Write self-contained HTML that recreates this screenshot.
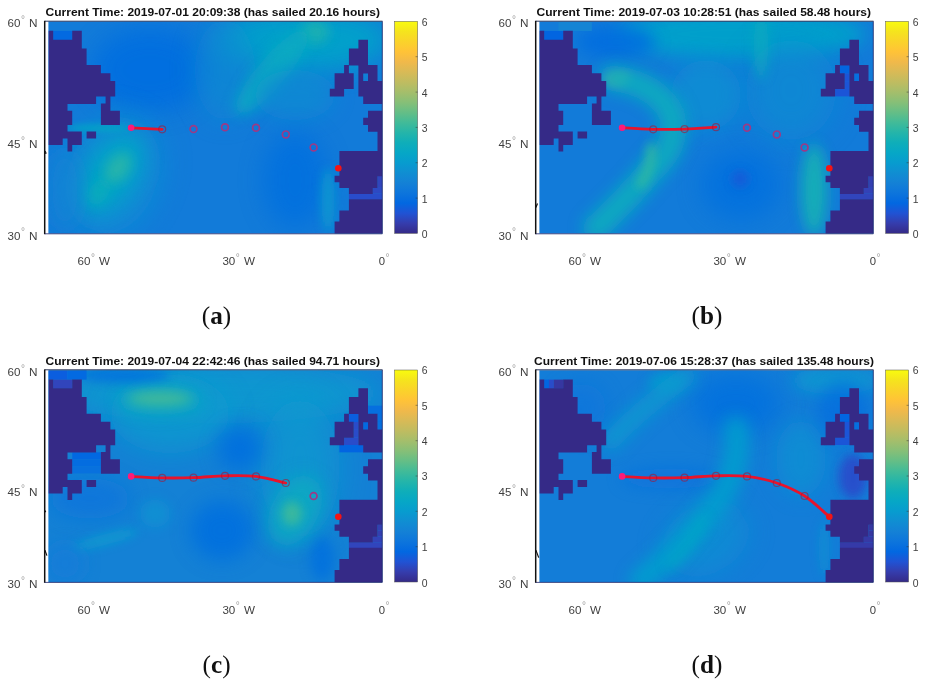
<!DOCTYPE html>
<html><head><meta charset="utf-8"><title>Figure</title>
<style>
html,body{margin:0;padding:0;background:#fff}
svg{display:block}
.t{font-family:"Liberation Sans",sans-serif;font-size:10.7px;fill:#404040}
.dg{font-family:"Liberation Sans",sans-serif;font-size:10px;fill:#a4a4a4}
.tc{font-family:"Liberation Sans",sans-serif;font-size:10.2px;fill:#404040}
.ti{font-family:"Liberation Sans",sans-serif;font-size:10.8px;font-weight:bold;fill:#111}
.cap{font-family:"Liberation Serif",serif;font-size:25.2px;fill:#111}
</style></head><body>
<svg width="931" height="685" viewBox="0 0 931 685">
<defs>
<linearGradient id="par" x1="0" y1="0" x2="0" y2="1"><stop offset="0.0000" stop-color="#f9fb0e"/><stop offset="0.0476" stop-color="#f5e41d"/><stop offset="0.0952" stop-color="#fad32a"/><stop offset="0.1429" stop-color="#ffc337"/><stop offset="0.1905" stop-color="#f1b94a"/><stop offset="0.2381" stop-color="#d9ba56"/><stop offset="0.2857" stop-color="#c0bc60"/><stop offset="0.3333" stop-color="#a5be6b"/><stop offset="0.3810" stop-color="#87bf77"/><stop offset="0.4286" stop-color="#65be86"/><stop offset="0.4762" stop-color="#42bb98"/><stop offset="0.5238" stop-color="#25b5a9"/><stop offset="0.5714" stop-color="#0faeb9"/><stop offset="0.6190" stop-color="#06a7c6"/><stop offset="0.6667" stop-color="#079ccf"/><stop offset="0.7143" stop-color="#108ed2"/><stop offset="0.7619" stop-color="#1481d6"/><stop offset="0.8095" stop-color="#0d75dc"/><stop offset="0.8571" stop-color="#0268e1"/><stop offset="0.9048" stop-color="#2053d4"/><stop offset="0.9524" stop-color="#353dad"/><stop offset="1.0000" stop-color="#352a87"/></linearGradient>
<filter id="b3" x="-100%" y="-100%" width="300%" height="300%"><feGaussianBlur stdDeviation="3"/></filter><filter id="b4" x="-100%" y="-100%" width="300%" height="300%"><feGaussianBlur stdDeviation="4"/></filter><filter id="b5" x="-100%" y="-100%" width="300%" height="300%"><feGaussianBlur stdDeviation="5"/></filter><filter id="b6" x="-100%" y="-100%" width="300%" height="300%"><feGaussianBlur stdDeviation="6"/></filter><filter id="b7" x="-100%" y="-100%" width="300%" height="300%"><feGaussianBlur stdDeviation="7"/></filter><filter id="b8" x="-100%" y="-100%" width="300%" height="300%"><feGaussianBlur stdDeviation="8"/></filter><filter id="b9" x="-100%" y="-100%" width="300%" height="300%"><feGaussianBlur stdDeviation="9"/></filter><filter id="b10" x="-100%" y="-100%" width="300%" height="300%"><feGaussianBlur stdDeviation="10"/></filter><filter id="b12" x="-100%" y="-100%" width="300%" height="300%"><feGaussianBlur stdDeviation="12"/></filter><filter id="b15" x="-100%" y="-100%" width="300%" height="300%"><feGaussianBlur stdDeviation="15"/></filter>
<clipPath id="clip"><rect x="48.4" y="21.6" width="333.90000000000003" height="212.0"/></clipPath>
</defs>
<rect width="931" height="685" fill="#fff"/>
<g transform="translate(0,0)">
<g clip-path="url(#clip)">
<rect x="28.4" y="1.6000000000000014" width="373.90000000000003" height="252.0" fill="#127bd9"/>
<ellipse cx="150" cy="70" rx="58" ry="42" transform="rotate(0 150 70)" fill="#056ee0" opacity="0.9" filter="url(#b12)"/>
<ellipse cx="305" cy="40" rx="85" ry="32" transform="rotate(0 305 40)" fill="#06a4c9" opacity="0.9" filter="url(#b12)"/>
<ellipse cx="225" cy="70" rx="30" ry="50" transform="rotate(0 225 70)" fill="#118dd2" opacity="0.6" filter="url(#b12)"/>
<ellipse cx="315" cy="32" rx="14" ry="12" transform="rotate(0 315 32)" fill="#20b4ad" opacity="0.8" filter="url(#b6)"/>
<ellipse cx="272" cy="72" rx="15" ry="54" transform="rotate(40 272 72)" fill="#07aac1" opacity="0.9" filter="url(#b7)"/>
<ellipse cx="295" cy="95" rx="40" ry="25" transform="rotate(0 295 95)" fill="#118dd2" opacity="0.7" filter="url(#b10)"/>
<ellipse cx="113" cy="175" rx="45" ry="60" transform="rotate(20 113 175)" fill="#0998d1" opacity="0.7" filter="url(#b15)"/>
<ellipse cx="111" cy="174" rx="24" ry="44" transform="rotate(35 111 174)" fill="#06a7c5" opacity="0.85" filter="url(#b10)"/>
<ellipse cx="99" cy="192" rx="9" ry="14" transform="rotate(35 99 192)" fill="#11afb8" opacity="0.7" filter="url(#b6)"/>
<ellipse cx="118" cy="168" rx="11" ry="17" transform="rotate(35 118 168)" fill="#29b6a7" opacity="0.85" filter="url(#b6)"/>
<ellipse cx="98" cy="128" rx="32" ry="3.5" transform="rotate(0 98 128)" fill="#06a7c5" opacity="0.9" filter="url(#b3)"/>
<ellipse cx="295" cy="180" rx="32" ry="48" transform="rotate(0 295 180)" fill="#066fdf" opacity="0.85" filter="url(#b12)"/>
<ellipse cx="328" cy="200" rx="7" ry="32" transform="rotate(0 328 200)" fill="#079ccf" opacity="0.8" filter="url(#b5)"/>
<ellipse cx="65" cy="190" rx="18" ry="40" transform="rotate(0 65 190)" fill="#1484d4" opacity="0.6" filter="url(#b8)"/>
<rect x="348.91" y="193.66" width="33.39" height="5.73" fill="#294cca"/>
<rect x="372.76" y="187.86" width="9.54" height="5.81" fill="#2d49c3"/>
<rect x="377.53" y="181.97" width="4.77" height="5.88" fill="#3145bc"/>
<rect x="377.53" y="176.01" width="4.77" height="5.96" fill="#3145bc"/>
<rect x="53.17" y="31.02" width="19.08" height="8.93" fill="#036ae1"/>
<path d="M48.4 30.8H53.2V40.1H48.4ZM72.2 30.8H81.8V40.1H72.2ZM48.4 39.7H81.8V48.8H48.4ZM358.4 39.7H368.0V48.8H358.4ZM48.4 48.4H86.6V57.3H48.4ZM348.9 48.4H368.0V57.3H348.9ZM48.4 56.9H86.6V65.5H48.4ZM348.9 56.9H368.0V65.5H348.9ZM48.4 65.1H100.9V73.6H48.4ZM344.1 65.1H348.9V73.6H344.1ZM358.4 65.1H377.5V73.6H358.4ZM48.4 73.2H110.4V81.4H48.4ZM334.6 73.2H353.7V81.4H334.6ZM358.4 73.2H363.2V81.4H358.4ZM368.0 73.2H377.5V81.4H368.0ZM48.4 81.0H115.2V89.1H48.4ZM334.6 81.0H353.7V89.1H334.6ZM358.4 81.0H382.3V89.1H358.4ZM48.4 88.7H115.2V96.6H48.4ZM329.8 88.7H344.1V96.6H329.8ZM358.4 88.7H382.3V96.6H358.4ZM48.4 96.2H96.1V103.9H48.4ZM105.6 96.2H110.4V103.9H105.6ZM363.2 96.2H382.3V103.9H363.2ZM48.4 103.5H67.5V111.1H48.4ZM100.9 103.5H110.4V111.1H100.9ZM48.4 110.7H72.2V118.1H48.4ZM100.9 110.7H119.9V118.1H100.9ZM368.0 110.7H382.3V118.1H368.0ZM48.4 117.7H72.2V125.1H48.4ZM100.9 117.7H119.9V125.1H100.9ZM363.2 117.7H382.3V125.1H363.2ZM48.4 124.7H67.5V131.8H48.4ZM368.0 124.7H382.3V131.8H368.0ZM48.4 131.4H81.8V138.5H48.4ZM86.6 131.4H96.1V138.5H86.6ZM377.5 131.4H382.3V138.5H377.5ZM48.4 138.1H62.7V145.0H48.4ZM67.5 138.1H81.8V145.0H67.5ZM377.5 138.1H382.3V145.0H377.5ZM67.5 144.6H72.2V151.5H67.5ZM377.5 144.6H382.3V151.5H377.5ZM339.4 151.1H382.3V157.8H339.4ZM339.4 157.4H382.3V164.0H339.4ZM339.4 163.6H382.3V170.2H339.4ZM339.4 169.8H382.3V176.2H339.4ZM334.6 175.8H377.5V182.2H334.6ZM339.4 181.8H377.5V188.1H339.4ZM348.9 187.7H372.8V193.9H348.9ZM348.9 199.2H382.3V205.3H348.9ZM348.9 204.9H382.3V210.9H348.9ZM339.4 210.5H382.3V216.4H339.4ZM339.4 216.0H382.3V221.9H339.4ZM334.6 221.5H382.3V227.3H334.6ZM334.6 226.9H382.3V232.6H334.6ZM334.6 232.2H382.3V233.8H334.6Z" fill="#352a87"/>
</g>
<path d="M44.7 21.2H382.5" fill="none" stroke="#14204a" stroke-width="0.9"/>
<path d="M44.7 234.2V20.8" fill="none" stroke="#111" stroke-width="1.5"/>
<path d="M382.3 21.3V233.79999999999998H44.7" fill="none" stroke="#1c2266" stroke-width="0.8"/>
<path d="M44.9 151.2l0.9 1.2v1.6" fill="none" stroke="#111" stroke-width="1.2"/>
<circle cx="193.5" cy="129.1" r="3.4" fill="none" stroke="#9c3a86" stroke-width="1.7"/>
<circle cx="225" cy="127.2" r="3.4" fill="none" stroke="#9c3a86" stroke-width="1.7"/>
<circle cx="256" cy="127.8" r="3.4" fill="none" stroke="#9c3a86" stroke-width="1.7"/>
<circle cx="285.8" cy="134.4" r="3.4" fill="none" stroke="#9c3a86" stroke-width="1.7"/>
<circle cx="313.6" cy="147.4" r="3.4" fill="none" stroke="#9c3a86" stroke-width="1.7"/>
<path d="M131.1 127.8C136.3 128.1 157.0 129.1 162.2 129.3" fill="none" stroke="#e8142c" stroke-width="2.8" stroke-linejoin="round" stroke-linecap="round"/>
<circle cx="162.2" cy="129.3" r="3.5" fill="none" stroke="#a81634" stroke-width="1.2" opacity="0.6"/>
<circle cx="131.1" cy="127.8" r="3.3" fill="#ff1a78"/>
<circle cx="338.3" cy="168.2" r="3.3" fill="#f41414"/>
<rect x="394.6" y="21.4" width="23" height="212" fill="url(#par)" stroke="#555" stroke-width="0.5"/>
<text x="421.8" y="238.0" class="tc" textLength="5.8" lengthAdjust="spacingAndGlyphs">0</text>
<text x="421.8" y="202.6" class="tc" textLength="5.8" lengthAdjust="spacingAndGlyphs">1</text>
<path d="M415.6 198.1h2" stroke="#333" stroke-width="0.5"/>
<text x="421.8" y="167.3" class="tc" textLength="5.8" lengthAdjust="spacingAndGlyphs">2</text>
<path d="M415.6 162.7h2" stroke="#333" stroke-width="0.5"/>
<text x="421.8" y="131.9" class="tc" textLength="5.8" lengthAdjust="spacingAndGlyphs">3</text>
<path d="M415.6 127.4h2" stroke="#333" stroke-width="0.5"/>
<text x="421.8" y="96.5" class="tc" textLength="5.8" lengthAdjust="spacingAndGlyphs">4</text>
<path d="M415.6 92.1h2" stroke="#333" stroke-width="0.5"/>
<text x="421.8" y="61.1" class="tc" textLength="5.8" lengthAdjust="spacingAndGlyphs">5</text>
<path d="M415.6 56.7h2" stroke="#333" stroke-width="0.5"/>
<text x="421.8" y="25.8" class="tc" textLength="5.8" lengthAdjust="spacingAndGlyphs">6</text>
<text x="45.5" y="16" class="ti" textLength="334.5" lengthAdjust="spacingAndGlyphs">Current Time: 2019-07-01 20:09:38 (has sailed 20.16 hours)</text>
<text x="7.6" y="27.3" class="t" textLength="12.9" lengthAdjust="spacingAndGlyphs">60</text><text x="20.9" y="23.0" class="dg">°</text><text x="28.9" y="27.3" class="t" textLength="8.5" lengthAdjust="spacingAndGlyphs">N</text>
<text x="7.6" y="147.9" class="t" textLength="12.9" lengthAdjust="spacingAndGlyphs">45</text><text x="20.9" y="143.6" class="dg">°</text><text x="28.9" y="147.9" class="t" textLength="8.5" lengthAdjust="spacingAndGlyphs">N</text>
<text x="7.6" y="239.6" class="t" textLength="12.9" lengthAdjust="spacingAndGlyphs">30</text><text x="20.9" y="235.29999999999998" class="dg">°</text><text x="28.9" y="239.6" class="t" textLength="8.5" lengthAdjust="spacingAndGlyphs">N</text>
<text x="77.6" y="265.2" class="t" textLength="12.9" lengthAdjust="spacingAndGlyphs">60</text><text x="90.89999999999999" y="260.9" class="dg">°</text><text x="99.1" y="265.2" class="t" textLength="11" lengthAdjust="spacingAndGlyphs">W</text>
<text x="222.4" y="265.2" class="t" textLength="12.9" lengthAdjust="spacingAndGlyphs">30</text><text x="235.70000000000002" y="260.9" class="dg">°</text><text x="243.9" y="265.2" class="t" textLength="11" lengthAdjust="spacingAndGlyphs">W</text>
<text x="378.8" y="265.2" class="t" textLength="6.3" lengthAdjust="spacingAndGlyphs">0</text><text x="385.6" y="260.9" class="dg">°</text>
<text x="216.5" y="323.6" class="cap" text-anchor="middle">(<tspan font-weight="bold">a</tspan>)</text>
</g>
<g transform="translate(491,0)">
<g clip-path="url(#clip)">
<rect x="28.4" y="1.6000000000000014" width="373.90000000000003" height="252.0" fill="#127bd9"/>
<ellipse cx="250" cy="34" rx="125" ry="25" transform="rotate(0 250 34)" fill="#06a2cb" opacity="0.95" filter="url(#b9)"/>
<ellipse cx="300" cy="90" rx="45" ry="50" transform="rotate(0 300 90)" fill="#118dd2" opacity="0.7" filter="url(#b15)"/>
<ellipse cx="270" cy="45" rx="7" ry="35" transform="rotate(0 270 45)" fill="#0badbc" opacity="0.7" filter="url(#b6)"/>
<ellipse cx="125" cy="42" rx="40" ry="16" transform="rotate(0 125 42)" fill="#046de0" opacity="0.85" filter="url(#b8)"/>
<ellipse cx="215" cy="95" rx="35" ry="35" transform="rotate(0 215 95)" fill="#0d93d2" opacity="0.7" filter="url(#b10)"/>
<ellipse cx="250" cy="185" rx="40" ry="35" transform="rotate(0 250 185)" fill="#066fdf" opacity="0.8" filter="url(#b12)"/>
<ellipse cx="249" cy="179" rx="8" ry="8" transform="rotate(0 249 179)" fill="#1b55d7" opacity="0.8" filter="url(#b5)"/>
<ellipse cx="323" cy="190" rx="13" ry="46" transform="rotate(0 323 190)" fill="#14b0b5" opacity="0.95" filter="url(#b7)"/>
<ellipse cx="127" cy="79" rx="12" ry="5.5" transform="rotate(0 127 79)" fill="#91bf73" opacity="0.95" filter="url(#b4)"/>
<path d="M122 78 Q168 85 181 115 Q188 145 162 168 Q140 195 105 228" fill="none" stroke="#09abbf" stroke-width="26" stroke-linecap="round" opacity="0.95" filter="url(#b8)"/>
<path d="M160 148 Q162 165 150 184" fill="none" stroke="#33b8a1" stroke-width="9" stroke-linecap="round" opacity="0.9" filter="url(#b5)"/>
<rect x="348.91" y="193.66" width="33.39" height="5.73" fill="#3145bc"/>
<rect x="372.76" y="187.86" width="9.54" height="5.81" fill="#3342b7"/>
<rect x="377.53" y="181.97" width="4.77" height="5.88" fill="#343fb1"/>
<rect x="377.53" y="176.01" width="4.77" height="5.96" fill="#343fb1"/>
<rect x="348.91" y="65.33" width="9.54" height="8.04" fill="#0265e1"/>
<rect x="353.68" y="73.37" width="4.77" height="7.85" fill="#1b55d7"/>
<rect x="363.22" y="73.37" width="4.77" height="7.85" fill="#066fdf"/>
<rect x="353.68" y="81.21" width="4.77" height="7.67" fill="#1b55d7"/>
<rect x="344.14" y="88.88" width="14.31" height="7.50" fill="#1b55d7"/>
<rect x="53.17" y="31.02" width="19.08" height="8.93" fill="#0265e1"/>
<rect x="67.48" y="21.82" width="33.39" height="9.20" fill="#1484d4"/>
<path d="M48.4 30.8H53.2V40.1H48.4ZM72.2 30.8H81.8V40.1H72.2ZM48.4 39.7H81.8V48.8H48.4ZM358.4 39.7H368.0V48.8H358.4ZM48.4 48.4H86.6V57.3H48.4ZM348.9 48.4H368.0V57.3H348.9ZM48.4 56.9H86.6V65.5H48.4ZM348.9 56.9H368.0V65.5H348.9ZM48.4 65.1H100.9V73.6H48.4ZM344.1 65.1H348.9V73.6H344.1ZM358.4 65.1H377.5V73.6H358.4ZM48.4 73.2H110.4V81.4H48.4ZM334.6 73.2H353.7V81.4H334.6ZM358.4 73.2H363.2V81.4H358.4ZM368.0 73.2H377.5V81.4H368.0ZM48.4 81.0H115.2V89.1H48.4ZM334.6 81.0H353.7V89.1H334.6ZM358.4 81.0H382.3V89.1H358.4ZM48.4 88.7H115.2V96.6H48.4ZM329.8 88.7H344.1V96.6H329.8ZM358.4 88.7H382.3V96.6H358.4ZM48.4 96.2H96.1V103.9H48.4ZM105.6 96.2H110.4V103.9H105.6ZM363.2 96.2H382.3V103.9H363.2ZM48.4 103.5H67.5V111.1H48.4ZM100.9 103.5H110.4V111.1H100.9ZM48.4 110.7H72.2V118.1H48.4ZM100.9 110.7H119.9V118.1H100.9ZM368.0 110.7H382.3V118.1H368.0ZM48.4 117.7H72.2V125.1H48.4ZM100.9 117.7H119.9V125.1H100.9ZM363.2 117.7H382.3V125.1H363.2ZM48.4 124.7H67.5V131.8H48.4ZM368.0 124.7H382.3V131.8H368.0ZM48.4 131.4H81.8V138.5H48.4ZM86.6 131.4H96.1V138.5H86.6ZM377.5 131.4H382.3V138.5H377.5ZM48.4 138.1H62.7V145.0H48.4ZM67.5 138.1H81.8V145.0H67.5ZM377.5 138.1H382.3V145.0H377.5ZM67.5 144.6H72.2V151.5H67.5ZM377.5 144.6H382.3V151.5H377.5ZM339.4 151.1H382.3V157.8H339.4ZM339.4 157.4H382.3V164.0H339.4ZM339.4 163.6H382.3V170.2H339.4ZM339.4 169.8H382.3V176.2H339.4ZM334.6 175.8H377.5V182.2H334.6ZM339.4 181.8H377.5V188.1H339.4ZM348.9 187.7H372.8V193.9H348.9ZM348.9 199.2H382.3V205.3H348.9ZM348.9 204.9H382.3V210.9H348.9ZM339.4 210.5H382.3V216.4H339.4ZM339.4 216.0H382.3V221.9H339.4ZM334.6 221.5H382.3V227.3H334.6ZM334.6 226.9H382.3V232.6H334.6ZM334.6 232.2H382.3V233.8H334.6Z" fill="#352a87"/>
</g>
<path d="M44.7 21.2H382.5" fill="none" stroke="#14204a" stroke-width="0.9"/>
<path d="M44.7 234.2V20.8" fill="none" stroke="#111" stroke-width="1.5"/>
<path d="M382.3 21.3V233.79999999999998H44.7" fill="none" stroke="#1c2266" stroke-width="0.8"/>
<path d="M44.9 207.5l1.6-4" fill="none" stroke="#111" stroke-width="1.2"/>
<circle cx="256" cy="127.8" r="3.4" fill="none" stroke="#9c3a86" stroke-width="1.7"/>
<circle cx="285.8" cy="134.4" r="3.4" fill="none" stroke="#9c3a86" stroke-width="1.7"/>
<circle cx="313.6" cy="147.4" r="3.4" fill="none" stroke="#9c3a86" stroke-width="1.7"/>
<path d="M131.1 127.8C136.3 128.1 151.8 129.1 162.2 129.3C172.6 129.5 183.0 129.4 193.5 129.1C204.0 128.8 219.8 127.5 225 127.2" fill="none" stroke="#e8142c" stroke-width="2.8" stroke-linejoin="round" stroke-linecap="round"/>
<circle cx="162.2" cy="129.3" r="3.5" fill="none" stroke="#a81634" stroke-width="1.2" opacity="0.6"/>
<circle cx="193.5" cy="129.1" r="3.5" fill="none" stroke="#a81634" stroke-width="1.2" opacity="0.6"/>
<circle cx="225" cy="127.2" r="3.5" fill="none" stroke="#a81634" stroke-width="1.2" opacity="0.6"/>
<circle cx="131.1" cy="127.8" r="3.3" fill="#ff1a78"/>
<circle cx="338.3" cy="168.2" r="3.3" fill="#f41414"/>
<rect x="394.6" y="21.4" width="23" height="212" fill="url(#par)" stroke="#555" stroke-width="0.5"/>
<text x="421.8" y="238.0" class="tc" textLength="5.8" lengthAdjust="spacingAndGlyphs">0</text>
<text x="421.8" y="202.6" class="tc" textLength="5.8" lengthAdjust="spacingAndGlyphs">1</text>
<path d="M415.6 198.1h2" stroke="#333" stroke-width="0.5"/>
<text x="421.8" y="167.3" class="tc" textLength="5.8" lengthAdjust="spacingAndGlyphs">2</text>
<path d="M415.6 162.7h2" stroke="#333" stroke-width="0.5"/>
<text x="421.8" y="131.9" class="tc" textLength="5.8" lengthAdjust="spacingAndGlyphs">3</text>
<path d="M415.6 127.4h2" stroke="#333" stroke-width="0.5"/>
<text x="421.8" y="96.5" class="tc" textLength="5.8" lengthAdjust="spacingAndGlyphs">4</text>
<path d="M415.6 92.1h2" stroke="#333" stroke-width="0.5"/>
<text x="421.8" y="61.1" class="tc" textLength="5.8" lengthAdjust="spacingAndGlyphs">5</text>
<path d="M415.6 56.7h2" stroke="#333" stroke-width="0.5"/>
<text x="421.8" y="25.8" class="tc" textLength="5.8" lengthAdjust="spacingAndGlyphs">6</text>
<text x="45.5" y="16" class="ti" textLength="334.5" lengthAdjust="spacingAndGlyphs">Current Time: 2019-07-03 10:28:51 (has sailed 58.48 hours)</text>
<text x="7.6" y="27.3" class="t" textLength="12.9" lengthAdjust="spacingAndGlyphs">60</text><text x="20.9" y="23.0" class="dg">°</text><text x="28.9" y="27.3" class="t" textLength="8.5" lengthAdjust="spacingAndGlyphs">N</text>
<text x="7.6" y="147.9" class="t" textLength="12.9" lengthAdjust="spacingAndGlyphs">45</text><text x="20.9" y="143.6" class="dg">°</text><text x="28.9" y="147.9" class="t" textLength="8.5" lengthAdjust="spacingAndGlyphs">N</text>
<text x="7.6" y="239.6" class="t" textLength="12.9" lengthAdjust="spacingAndGlyphs">30</text><text x="20.9" y="235.29999999999998" class="dg">°</text><text x="28.9" y="239.6" class="t" textLength="8.5" lengthAdjust="spacingAndGlyphs">N</text>
<text x="77.6" y="265.2" class="t" textLength="12.9" lengthAdjust="spacingAndGlyphs">60</text><text x="90.89999999999999" y="260.9" class="dg">°</text><text x="99.1" y="265.2" class="t" textLength="11" lengthAdjust="spacingAndGlyphs">W</text>
<text x="222.4" y="265.2" class="t" textLength="12.9" lengthAdjust="spacingAndGlyphs">30</text><text x="235.70000000000002" y="260.9" class="dg">°</text><text x="243.9" y="265.2" class="t" textLength="11" lengthAdjust="spacingAndGlyphs">W</text>
<text x="378.8" y="265.2" class="t" textLength="6.3" lengthAdjust="spacingAndGlyphs">0</text><text x="385.6" y="260.9" class="dg">°</text>
<text x="216.0" y="323.6" class="cap" text-anchor="middle">(<tspan font-weight="bold">b</tspan>)</text>
</g>
<g transform="translate(0,348.6)">
<g clip-path="url(#clip)">
<rect x="28.4" y="1.6000000000000014" width="373.90000000000003" height="252.0" fill="#1481d5"/>
<ellipse cx="220" cy="45" rx="160" ry="30" transform="rotate(0 220 45)" fill="#079ccf" opacity="0.8" filter="url(#b12)"/>
<ellipse cx="170" cy="65" rx="60" ry="40" transform="rotate(0 170 65)" fill="#079ccf" opacity="0.7" filter="url(#b12)"/>
<ellipse cx="160" cy="52" rx="42" ry="14" transform="rotate(0 160 52)" fill="#0badbc" opacity="0.7" filter="url(#b8)"/>
<ellipse cx="160" cy="50" rx="32" ry="7" transform="rotate(0 160 50)" fill="#49bb94" opacity="0.9" filter="url(#b6)"/>
<ellipse cx="300" cy="120" rx="40" ry="70" transform="rotate(0 300 120)" fill="#079ccf" opacity="0.7" filter="url(#b15)"/>
<ellipse cx="240" cy="100" rx="22" ry="22" transform="rotate(0 240 100)" fill="#066fdf" opacity="0.9" filter="url(#b10)"/>
<ellipse cx="222" cy="182" rx="32" ry="30" transform="rotate(0 222 182)" fill="#066fdf" opacity="0.9" filter="url(#b10)"/>
<ellipse cx="322" cy="210" rx="12" ry="22" transform="rotate(0 322 210)" fill="#066fdf" opacity="0.8" filter="url(#b6)"/>
<ellipse cx="90" cy="150" rx="40" ry="20" transform="rotate(0 90 150)" fill="#0d75dc" opacity="0.8" filter="url(#b10)"/>
<ellipse cx="295" cy="162" rx="24" ry="38" transform="rotate(27 295 162)" fill="#07aac1" opacity="0.85" filter="url(#b9)"/>
<ellipse cx="292" cy="165" rx="10" ry="12" transform="rotate(0 292 165)" fill="#3dba9b" opacity="0.9" filter="url(#b5)"/>
<ellipse cx="105" cy="191" rx="35" ry="6" transform="rotate(-15 105 191)" fill="#079ccf" opacity="0.8" filter="url(#b5)"/>
<ellipse cx="155" cy="165" rx="15" ry="14" transform="rotate(0 155 165)" fill="#0998d1" opacity="0.6" filter="url(#b6)"/>
<ellipse cx="125" cy="27" rx="45" ry="7" transform="rotate(0 125 27)" fill="#066fdf" opacity="0.8" filter="url(#b5)"/>
<ellipse cx="65" cy="215" rx="20" ry="20" transform="rotate(0 65 215)" fill="#127bd9" opacity="0.7" filter="url(#b8)"/>
<rect x="348.91" y="193.66" width="33.39" height="5.73" fill="#3145bc"/>
<rect x="372.76" y="187.86" width="9.54" height="5.81" fill="#3342b7"/>
<rect x="377.53" y="181.97" width="4.77" height="5.88" fill="#343fb1"/>
<rect x="377.53" y="176.01" width="4.77" height="5.96" fill="#343fb1"/>
<rect x="348.91" y="65.33" width="9.54" height="8.04" fill="#0b5edf"/>
<rect x="353.68" y="73.37" width="4.77" height="7.85" fill="#294cca"/>
<rect x="363.22" y="73.37" width="4.77" height="7.85" fill="#036ae1"/>
<rect x="353.68" y="81.21" width="4.77" height="7.67" fill="#294cca"/>
<rect x="344.14" y="88.88" width="14.31" height="7.50" fill="#294cca"/>
<rect x="339.37" y="96.38" width="23.85" height="7.34" fill="#0265e1"/>
<rect x="367.99" y="57.09" width="14.31" height="8.24" fill="#066fdf"/>
<rect x="377.53" y="65.33" width="4.77" height="8.04" fill="#066fdf"/>
<rect x="377.53" y="73.37" width="4.77" height="7.85" fill="#066fdf"/>
<rect x="72.25" y="103.71" width="28.62" height="7.19" fill="#0268e1"/>
<rect x="72.25" y="110.90" width="28.62" height="7.04" fill="#046de0"/>
<rect x="72.25" y="117.94" width="28.62" height="6.91" fill="#0871de"/>
<rect x="48.40" y="21.82" width="19.08" height="9.20" fill="#0b5edf"/>
<rect x="67.48" y="21.82" width="19.08" height="9.20" fill="#036ae1"/>
<rect x="53.17" y="31.02" width="19.08" height="8.93" fill="#3145bc"/>
<path d="M48.4 30.8H53.2V40.1H48.4ZM72.2 30.8H81.8V40.1H72.2ZM48.4 39.7H81.8V48.8H48.4ZM358.4 39.7H368.0V48.8H358.4ZM48.4 48.4H86.6V57.3H48.4ZM348.9 48.4H368.0V57.3H348.9ZM48.4 56.9H86.6V65.5H48.4ZM348.9 56.9H368.0V65.5H348.9ZM48.4 65.1H100.9V73.6H48.4ZM344.1 65.1H348.9V73.6H344.1ZM358.4 65.1H377.5V73.6H358.4ZM48.4 73.2H110.4V81.4H48.4ZM334.6 73.2H353.7V81.4H334.6ZM358.4 73.2H363.2V81.4H358.4ZM368.0 73.2H377.5V81.4H368.0ZM48.4 81.0H115.2V89.1H48.4ZM334.6 81.0H353.7V89.1H334.6ZM358.4 81.0H382.3V89.1H358.4ZM48.4 88.7H115.2V96.6H48.4ZM329.8 88.7H344.1V96.6H329.8ZM358.4 88.7H382.3V96.6H358.4ZM48.4 96.2H96.1V103.9H48.4ZM105.6 96.2H110.4V103.9H105.6ZM363.2 96.2H382.3V103.9H363.2ZM48.4 103.5H67.5V111.1H48.4ZM100.9 103.5H110.4V111.1H100.9ZM48.4 110.7H72.2V118.1H48.4ZM100.9 110.7H119.9V118.1H100.9ZM368.0 110.7H382.3V118.1H368.0ZM48.4 117.7H72.2V125.1H48.4ZM100.9 117.7H119.9V125.1H100.9ZM363.2 117.7H382.3V125.1H363.2ZM48.4 124.7H67.5V131.8H48.4ZM368.0 124.7H382.3V131.8H368.0ZM48.4 131.4H81.8V138.5H48.4ZM86.6 131.4H96.1V138.5H86.6ZM377.5 131.4H382.3V138.5H377.5ZM48.4 138.1H62.7V145.0H48.4ZM67.5 138.1H81.8V145.0H67.5ZM377.5 138.1H382.3V145.0H377.5ZM67.5 144.6H72.2V151.5H67.5ZM377.5 144.6H382.3V151.5H377.5ZM339.4 151.1H382.3V157.8H339.4ZM339.4 157.4H382.3V164.0H339.4ZM339.4 163.6H382.3V170.2H339.4ZM339.4 169.8H382.3V176.2H339.4ZM334.6 175.8H377.5V182.2H334.6ZM339.4 181.8H377.5V188.1H339.4ZM348.9 187.7H372.8V193.9H348.9ZM348.9 199.2H382.3V205.3H348.9ZM348.9 204.9H382.3V210.9H348.9ZM339.4 210.5H382.3V216.4H339.4ZM339.4 216.0H382.3V221.9H339.4ZM334.6 221.5H382.3V227.3H334.6ZM334.6 226.9H382.3V232.6H334.6ZM334.6 232.2H382.3V233.8H334.6Z" fill="#352a87"/>
</g>
<path d="M44.7 21.2H382.5" fill="none" stroke="#14204a" stroke-width="0.9"/>
<path d="M44.7 234.2V20.8" fill="none" stroke="#111" stroke-width="1.5"/>
<path d="M382.3 21.3V233.79999999999998H44.7" fill="none" stroke="#1c2266" stroke-width="0.8"/>
<path d="M44.9 162l0.8 1.5M44.9 201.5l2 5.5" fill="none" stroke="#111" stroke-width="1.2"/>
<circle cx="313.6" cy="147.4" r="3.4" fill="none" stroke="#9c3a86" stroke-width="1.7"/>
<path d="M131.1 127.8C136.3 128.1 151.8 129.1 162.2 129.3C172.6 129.5 183.0 129.4 193.5 129.1C204.0 128.8 214.6 127.4 225 127.2C235.4 127.0 245.9 126.6 256 127.8C266.1 129.0 280.8 133.3 285.8 134.4" fill="none" stroke="#e8142c" stroke-width="2.8" stroke-linejoin="round" stroke-linecap="round"/>
<circle cx="162.2" cy="129.3" r="3.5" fill="none" stroke="#a81634" stroke-width="1.2" opacity="0.6"/>
<circle cx="193.5" cy="129.1" r="3.5" fill="none" stroke="#a81634" stroke-width="1.2" opacity="0.6"/>
<circle cx="225" cy="127.2" r="3.5" fill="none" stroke="#a81634" stroke-width="1.2" opacity="0.6"/>
<circle cx="256" cy="127.8" r="3.5" fill="none" stroke="#a81634" stroke-width="1.2" opacity="0.6"/>
<circle cx="285.8" cy="134.4" r="3.5" fill="none" stroke="#a81634" stroke-width="1.2" opacity="0.6"/>
<circle cx="131.1" cy="127.8" r="3.3" fill="#ff1a78"/>
<circle cx="338.3" cy="168.2" r="3.3" fill="#f41414"/>
<rect x="394.6" y="21.4" width="23" height="212" fill="url(#par)" stroke="#555" stroke-width="0.5"/>
<text x="421.8" y="238.0" class="tc" textLength="5.8" lengthAdjust="spacingAndGlyphs">0</text>
<text x="421.8" y="202.6" class="tc" textLength="5.8" lengthAdjust="spacingAndGlyphs">1</text>
<path d="M415.6 198.1h2" stroke="#333" stroke-width="0.5"/>
<text x="421.8" y="167.3" class="tc" textLength="5.8" lengthAdjust="spacingAndGlyphs">2</text>
<path d="M415.6 162.7h2" stroke="#333" stroke-width="0.5"/>
<text x="421.8" y="131.9" class="tc" textLength="5.8" lengthAdjust="spacingAndGlyphs">3</text>
<path d="M415.6 127.4h2" stroke="#333" stroke-width="0.5"/>
<text x="421.8" y="96.5" class="tc" textLength="5.8" lengthAdjust="spacingAndGlyphs">4</text>
<path d="M415.6 92.1h2" stroke="#333" stroke-width="0.5"/>
<text x="421.8" y="61.1" class="tc" textLength="5.8" lengthAdjust="spacingAndGlyphs">5</text>
<path d="M415.6 56.7h2" stroke="#333" stroke-width="0.5"/>
<text x="421.8" y="25.8" class="tc" textLength="5.8" lengthAdjust="spacingAndGlyphs">6</text>
<text x="45.5" y="16" class="ti" textLength="334.5" lengthAdjust="spacingAndGlyphs">Current Time: 2019-07-04 22:42:46 (has sailed 94.71 hours)</text>
<text x="7.6" y="27.3" class="t" textLength="12.9" lengthAdjust="spacingAndGlyphs">60</text><text x="20.9" y="23.0" class="dg">°</text><text x="28.9" y="27.3" class="t" textLength="8.5" lengthAdjust="spacingAndGlyphs">N</text>
<text x="7.6" y="147.9" class="t" textLength="12.9" lengthAdjust="spacingAndGlyphs">45</text><text x="20.9" y="143.6" class="dg">°</text><text x="28.9" y="147.9" class="t" textLength="8.5" lengthAdjust="spacingAndGlyphs">N</text>
<text x="7.6" y="239.6" class="t" textLength="12.9" lengthAdjust="spacingAndGlyphs">30</text><text x="20.9" y="235.29999999999998" class="dg">°</text><text x="28.9" y="239.6" class="t" textLength="8.5" lengthAdjust="spacingAndGlyphs">N</text>
<text x="77.6" y="265.2" class="t" textLength="12.9" lengthAdjust="spacingAndGlyphs">60</text><text x="90.89999999999999" y="260.9" class="dg">°</text><text x="99.1" y="265.2" class="t" textLength="11" lengthAdjust="spacingAndGlyphs">W</text>
<text x="222.4" y="265.2" class="t" textLength="12.9" lengthAdjust="spacingAndGlyphs">30</text><text x="235.70000000000002" y="260.9" class="dg">°</text><text x="243.9" y="265.2" class="t" textLength="11" lengthAdjust="spacingAndGlyphs">W</text>
<text x="378.8" y="265.2" class="t" textLength="6.3" lengthAdjust="spacingAndGlyphs">0</text><text x="385.6" y="260.9" class="dg">°</text>
<text x="216.6" y="324.3" class="cap" text-anchor="middle">(<tspan font-weight="bold">c</tspan>)</text>
</g>
<g transform="translate(491,348.6)">
<g clip-path="url(#clip)">
<rect x="28.4" y="1.6000000000000014" width="373.90000000000003" height="252.0" fill="#137dd8"/>
<ellipse cx="345" cy="32" rx="45" ry="14" transform="rotate(0 345 32)" fill="#079ccf" opacity="0.8" filter="url(#b8)"/>
<ellipse cx="175" cy="34" rx="18" ry="10" transform="rotate(0 175 34)" fill="#06a0cd" opacity="0.7" filter="url(#b6)"/>
<ellipse cx="245" cy="55" rx="45" ry="30" transform="rotate(0 245 55)" fill="#066fdf" opacity="0.8" filter="url(#b12)"/>
<ellipse cx="180" cy="130" rx="50" ry="10" transform="rotate(0 180 130)" fill="#0871de" opacity="0.7" filter="url(#b8)"/>
<ellipse cx="310" cy="110" rx="25" ry="38" transform="rotate(0 310 110)" fill="#0d93d2" opacity="0.7" filter="url(#b10)"/>
<ellipse cx="362" cy="128" rx="14" ry="22" transform="rotate(0 362 128)" fill="#294cca" opacity="0.9" filter="url(#b5)"/>
<ellipse cx="352" cy="62" rx="25" ry="30" transform="rotate(0 352 62)" fill="#036ae1" opacity="0.6" filter="url(#b8)"/>
<ellipse cx="333" cy="200" rx="5" ry="28" transform="rotate(0 333 200)" fill="#0d93d2" opacity="0.7" filter="url(#b4)"/>
<ellipse cx="215" cy="190" rx="45" ry="35" transform="rotate(-30 215 190)" fill="#0d93d2" opacity="0.6" filter="url(#b12)"/>
<ellipse cx="90" cy="60" rx="25" ry="25" transform="rotate(0 90 60)" fill="#0b73dd" opacity="0.6" filter="url(#b10)"/>
<path d="M195 28 Q150 60 120 92" fill="none" stroke="#079ccf" stroke-width="20" stroke-linecap="round" opacity="0.8" filter="url(#b8)"/>
<path d="M150 232 Q200 190 232 145 Q250 110 245 80" fill="none" stroke="#069fce" stroke-width="24" stroke-linecap="round" opacity="0.9" filter="url(#b8)"/>
<path d="M180 215 Q200 195 212 172" fill="none" stroke="#06a7c5" stroke-width="10" stroke-linecap="round" opacity="0.7" filter="url(#b6)"/>
<rect x="348.91" y="193.66" width="33.39" height="5.73" fill="#353aa8"/>
<rect x="372.76" y="187.86" width="9.54" height="5.81" fill="#3639a5"/>
<rect x="377.53" y="181.97" width="4.77" height="5.88" fill="#3637a1"/>
<rect x="377.53" y="176.01" width="4.77" height="5.96" fill="#3637a1"/>
<rect x="348.91" y="65.33" width="9.54" height="8.04" fill="#0265e1"/>
<rect x="353.68" y="73.37" width="4.77" height="7.85" fill="#1b55d7"/>
<rect x="363.22" y="73.37" width="4.77" height="7.85" fill="#066fdf"/>
<rect x="353.68" y="81.21" width="4.77" height="7.67" fill="#1b55d7"/>
<rect x="344.14" y="88.88" width="14.31" height="7.50" fill="#1b55d7"/>
<rect x="53.17" y="31.02" width="4.77" height="8.93" fill="#0265e1"/>
<rect x="57.94" y="31.02" width="4.77" height="8.93" fill="#294cca"/>
<rect x="62.71" y="31.02" width="9.54" height="8.93" fill="#3637a1"/>
<path d="M48.4 30.8H53.2V40.1H48.4ZM72.2 30.8H81.8V40.1H72.2ZM48.4 39.7H81.8V48.8H48.4ZM358.4 39.7H368.0V48.8H358.4ZM48.4 48.4H86.6V57.3H48.4ZM348.9 48.4H368.0V57.3H348.9ZM48.4 56.9H86.6V65.5H48.4ZM348.9 56.9H368.0V65.5H348.9ZM48.4 65.1H100.9V73.6H48.4ZM344.1 65.1H348.9V73.6H344.1ZM358.4 65.1H377.5V73.6H358.4ZM48.4 73.2H110.4V81.4H48.4ZM334.6 73.2H353.7V81.4H334.6ZM358.4 73.2H363.2V81.4H358.4ZM368.0 73.2H377.5V81.4H368.0ZM48.4 81.0H115.2V89.1H48.4ZM334.6 81.0H353.7V89.1H334.6ZM358.4 81.0H382.3V89.1H358.4ZM48.4 88.7H115.2V96.6H48.4ZM329.8 88.7H344.1V96.6H329.8ZM358.4 88.7H382.3V96.6H358.4ZM48.4 96.2H96.1V103.9H48.4ZM105.6 96.2H110.4V103.9H105.6ZM363.2 96.2H382.3V103.9H363.2ZM48.4 103.5H67.5V111.1H48.4ZM100.9 103.5H110.4V111.1H100.9ZM48.4 110.7H72.2V118.1H48.4ZM100.9 110.7H119.9V118.1H100.9ZM368.0 110.7H382.3V118.1H368.0ZM48.4 117.7H72.2V125.1H48.4ZM100.9 117.7H119.9V125.1H100.9ZM363.2 117.7H382.3V125.1H363.2ZM48.4 124.7H67.5V131.8H48.4ZM368.0 124.7H382.3V131.8H368.0ZM48.4 131.4H81.8V138.5H48.4ZM86.6 131.4H96.1V138.5H86.6ZM377.5 131.4H382.3V138.5H377.5ZM48.4 138.1H62.7V145.0H48.4ZM67.5 138.1H81.8V145.0H67.5ZM377.5 138.1H382.3V145.0H377.5ZM67.5 144.6H72.2V151.5H67.5ZM377.5 144.6H382.3V151.5H377.5ZM339.4 151.1H382.3V157.8H339.4ZM339.4 157.4H382.3V164.0H339.4ZM339.4 163.6H382.3V170.2H339.4ZM339.4 169.8H382.3V176.2H339.4ZM334.6 175.8H377.5V182.2H334.6ZM339.4 181.8H377.5V188.1H339.4ZM348.9 187.7H372.8V193.9H348.9ZM348.9 199.2H382.3V205.3H348.9ZM348.9 204.9H382.3V210.9H348.9ZM339.4 210.5H382.3V216.4H339.4ZM339.4 216.0H382.3V221.9H339.4ZM334.6 221.5H382.3V227.3H334.6ZM334.6 226.9H382.3V232.6H334.6ZM334.6 232.2H382.3V233.8H334.6Z" fill="#352a87"/>
</g>
<path d="M44.7 21.2H382.5" fill="none" stroke="#14204a" stroke-width="0.9"/>
<path d="M44.7 234.2V20.8" fill="none" stroke="#111" stroke-width="1.5"/>
<path d="M382.3 21.3V233.79999999999998H44.7" fill="none" stroke="#1c2266" stroke-width="0.8"/>
<path d="M44.9 201.5l2.8 7.5" fill="none" stroke="#111" stroke-width="1.2"/>
<path d="M131.1 127.8C136.3 128.1 151.8 129.1 162.2 129.3C172.6 129.5 183.0 129.4 193.5 129.1C204.0 128.8 214.6 127.4 225 127.2C235.4 127.0 245.9 126.6 256 127.8C266.1 129.0 276.2 131.1 285.8 134.4C295.4 137.7 304.9 141.8 313.6 147.4C322.4 153.0 334.2 164.7 338.3 168.2" fill="none" stroke="#e8142c" stroke-width="2.8" stroke-linejoin="round" stroke-linecap="round"/>
<circle cx="162.2" cy="129.3" r="3.5" fill="none" stroke="#a81634" stroke-width="1.2" opacity="0.6"/>
<circle cx="193.5" cy="129.1" r="3.5" fill="none" stroke="#a81634" stroke-width="1.2" opacity="0.6"/>
<circle cx="225" cy="127.2" r="3.5" fill="none" stroke="#a81634" stroke-width="1.2" opacity="0.6"/>
<circle cx="256" cy="127.8" r="3.5" fill="none" stroke="#a81634" stroke-width="1.2" opacity="0.6"/>
<circle cx="285.8" cy="134.4" r="3.5" fill="none" stroke="#a81634" stroke-width="1.2" opacity="0.6"/>
<circle cx="313.6" cy="147.4" r="3.5" fill="none" stroke="#a81634" stroke-width="1.2" opacity="0.6"/>
<circle cx="131.1" cy="127.8" r="3.3" fill="#ff1a78"/>
<circle cx="338.3" cy="168.2" r="3.3" fill="#f41414"/>
<rect x="394.6" y="21.4" width="23" height="212" fill="url(#par)" stroke="#555" stroke-width="0.5"/>
<text x="421.8" y="238.0" class="tc" textLength="5.8" lengthAdjust="spacingAndGlyphs">0</text>
<text x="421.8" y="202.6" class="tc" textLength="5.8" lengthAdjust="spacingAndGlyphs">1</text>
<path d="M415.6 198.1h2" stroke="#333" stroke-width="0.5"/>
<text x="421.8" y="167.3" class="tc" textLength="5.8" lengthAdjust="spacingAndGlyphs">2</text>
<path d="M415.6 162.7h2" stroke="#333" stroke-width="0.5"/>
<text x="421.8" y="131.9" class="tc" textLength="5.8" lengthAdjust="spacingAndGlyphs">3</text>
<path d="M415.6 127.4h2" stroke="#333" stroke-width="0.5"/>
<text x="421.8" y="96.5" class="tc" textLength="5.8" lengthAdjust="spacingAndGlyphs">4</text>
<path d="M415.6 92.1h2" stroke="#333" stroke-width="0.5"/>
<text x="421.8" y="61.1" class="tc" textLength="5.8" lengthAdjust="spacingAndGlyphs">5</text>
<path d="M415.6 56.7h2" stroke="#333" stroke-width="0.5"/>
<text x="421.8" y="25.8" class="tc" textLength="5.8" lengthAdjust="spacingAndGlyphs">6</text>
<text x="43" y="16" class="ti" textLength="340" lengthAdjust="spacingAndGlyphs">Current Time: 2019-07-06 15:28:37 (has sailed 135.48 hours)</text>
<text x="7.6" y="27.3" class="t" textLength="12.9" lengthAdjust="spacingAndGlyphs">60</text><text x="20.9" y="23.0" class="dg">°</text><text x="28.9" y="27.3" class="t" textLength="8.5" lengthAdjust="spacingAndGlyphs">N</text>
<text x="7.6" y="147.9" class="t" textLength="12.9" lengthAdjust="spacingAndGlyphs">45</text><text x="20.9" y="143.6" class="dg">°</text><text x="28.9" y="147.9" class="t" textLength="8.5" lengthAdjust="spacingAndGlyphs">N</text>
<text x="7.6" y="239.6" class="t" textLength="12.9" lengthAdjust="spacingAndGlyphs">30</text><text x="20.9" y="235.29999999999998" class="dg">°</text><text x="28.9" y="239.6" class="t" textLength="8.5" lengthAdjust="spacingAndGlyphs">N</text>
<text x="77.6" y="265.2" class="t" textLength="12.9" lengthAdjust="spacingAndGlyphs">60</text><text x="90.89999999999999" y="260.9" class="dg">°</text><text x="99.1" y="265.2" class="t" textLength="11" lengthAdjust="spacingAndGlyphs">W</text>
<text x="222.4" y="265.2" class="t" textLength="12.9" lengthAdjust="spacingAndGlyphs">30</text><text x="235.70000000000002" y="260.9" class="dg">°</text><text x="243.9" y="265.2" class="t" textLength="11" lengthAdjust="spacingAndGlyphs">W</text>
<text x="378.8" y="265.2" class="t" textLength="6.3" lengthAdjust="spacingAndGlyphs">0</text><text x="385.6" y="260.9" class="dg">°</text>
<text x="216.0" y="324.4" class="cap" text-anchor="middle">(<tspan font-weight="bold">d</tspan>)</text>
</g>
</svg>
</body></html>
